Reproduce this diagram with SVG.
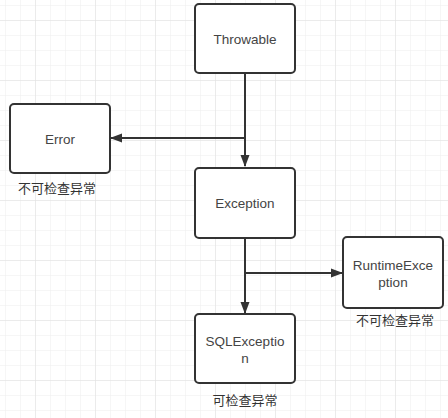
<svg xmlns="http://www.w3.org/2000/svg" width="448" height="418" viewBox="0 0 448 418">
<defs>
<pattern id="minor" x="5" y="5" width="15" height="15" patternUnits="userSpaceOnUse">
<path d="M0 0 H15 M0 0 V15" fill="none" stroke="#ededed" stroke-width="1"/>
</pattern>
<pattern id="major" x="35" y="20" width="60" height="60" patternUnits="userSpaceOnUse">
<path d="M0 0 H60 M0 0 V60" fill="none" stroke="#e0e0e0" stroke-width="1"/>
</pattern>
<marker id="arr" markerWidth="12" markerHeight="12" refX="11" refY="6" orient="auto" markerUnits="userSpaceOnUse">
<path d="M0 1.5 L12 6 L0 10.5 Z" fill="#333"/>
</marker>
<style>
.box{fill:#fff;stroke:#333;stroke-width:2}
.t{font-family:"Liberation Sans",Arial,sans-serif;font-size:13.5px;fill:#444;text-anchor:middle}
.c{font-family:"Noto Sans CJK SC","Liberation Sans",sans-serif;font-size:13px;fill:#333;text-anchor:middle}
.ln{fill:none;stroke:#333;stroke-width:2}
</style>
</defs>
<rect width="448" height="418" fill="#fff"/>
<rect width="448" height="418" fill="url(#minor)"/>
<rect width="448" height="418" fill="url(#major)"/>
<g id="connectors">
<path class="ln" d="M245 74 V166" marker-end="url(#arr)"/>
<path class="ln" d="M245 138 H111" marker-end="url(#arr)"/>
<path class="ln" d="M245 239 V313" marker-end="url(#arr)"/>
<path class="ln" d="M245 273 H342" marker-end="url(#arr)"/>
</g>
<g id="throwable">
<rect class="box" x="195" y="4" width="100" height="69" rx="4"/>
<text class="t" x="245" y="44">Throwable</text>
</g>
<g id="error">
<rect class="box" x="10" y="104" width="100" height="69" rx="4"/>
<text class="t" x="60" y="144">Error</text>
<text class="c" x="57" y="193">不可检查异常</text>
</g>
<g id="exception">
<rect class="box" x="195" y="168" width="100" height="70" rx="4"/>
<text class="t" x="245" y="208">Exception</text>
</g>
<g id="runtime">
<rect class="box" x="343" y="237" width="100" height="71" rx="4"/>
<text class="t" x="393" y="270">RuntimeExce</text>
<text class="t" x="393" y="287">ption</text>
<text class="c" x="395" y="325">不可检查异常</text>
</g>
<g id="sql">
<rect class="box" x="195" y="314" width="100" height="69" rx="4"/>
<text class="t" x="245" y="346">SQLExceptio</text>
<text class="t" x="245" y="363">n</text>
<text class="c" x="245" y="405">可检查异常</text>
</g>
</svg>
